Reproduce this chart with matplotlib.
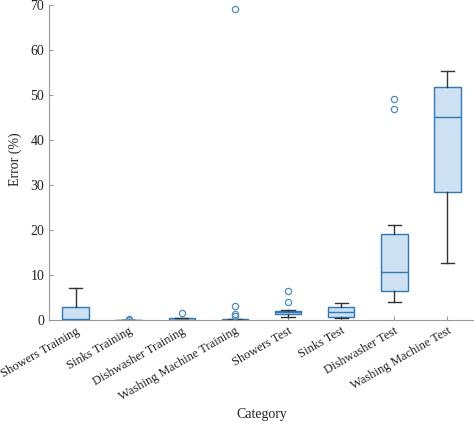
import matplotlib
matplotlib.use("Agg")
import matplotlib.pyplot as plt
import matplotlib.transforms as mtransforms

categories = [
    "Showers Training", "Sinks Training", "Dishwasher Training",
    "Washing Machine Training", "Showers Test", "Sinks Test",
    "Dishwasher Test", "Washing Machine Test",
]
whisker_low = [0.0, 0.0, 0.0, 0.0, 0.6, 0.35, 4.1, 12.6]
q1 = [0.0, 0.0, 0.0, 0.0, 1.4, 0.7, 6.4, 28.5]
median = [0.2, 0.05, 0.1, 0.05, 1.8, 1.8, 10.6, 45.0]
q3 = [2.8, 0.1, 0.5, 0.2, 2.1, 2.9, 19.1, 51.8]
whisker_high = [7.1, 0.1, 0.5, 0.3, 2.3, 3.8, 21.2, 55.3]
outliers = [
    [],
    [0.2, 0.1],
    [1.6],
    [69.0, 3.0, 1.3, 0.9],
    [6.5, 4.0],
    [],
    [49.0, 46.8],
    [],
]
y_ticks = [0, 10, 20, 30, 40, 50, 60, 70]

plt.rcParams["font.family"] = ["Liberation Serif", "DejaVu Serif"]

stats = []
for i, name in enumerate(categories):
    stats.append({
        "label": name,
        "whislo": whisker_low[i],
        "q1": q1[i],
        "med": median[i],
        "q3": q3[i],
        "whishi": whisker_high[i],
        "fliers": outliers[i],
    })

fig = plt.figure(figsize=(4.74, 4.22), dpi=100)
ax = fig.add_axes([0.1034, 0.2417, 0.8966, 0.7472])

edge = "#2f78b8"
ax.bxp(
    stats,
    widths=0.5,
    patch_artist=True,
    capwidths=0.25,
    boxprops=dict(facecolor="#cde1f3", edgecolor=edge, linewidth=1.0),
    medianprops=dict(color=edge, linewidth=1.0),
    whiskerprops=dict(color="#333333", linewidth=1.0),
    capprops=dict(color="#333333", linewidth=1.0),
    flierprops=dict(marker="o", markerfacecolor="none", markeredgecolor="#4a8cc4",
                    markersize=4.5, markeredgewidth=0.9),
)

ax.set_xlim(0.5, 8.5)
ax.set_ylim(0, 70)
ax.set_yticks(y_ticks)
ax.set_yticklabels([str(t) for t in y_ticks], fontsize=10)
ax.set_xticklabels(categories, rotation=30, ha="right", rotation_mode="anchor",
                   fontsize=9)
shift = mtransforms.ScaledTranslation(5 / 100, -3 / 100, fig.dpi_scale_trans)
for lbl in ax.get_xticklabels():
    lbl.set_transform(lbl.get_transform() + shift)
ax.tick_params(direction="in", length=3, colors="#222222", color="#999999")
ax.spines["top"].set_visible(False)
ax.spines["right"].set_visible(False)
ax.spines["left"].set_color("#999999")
ax.spines["bottom"].set_color("#999999")
ax.set_ylabel("Error (%)", fontsize=10, color="#222222")
ax.yaxis.set_label_coords(-0.063, 0.51)
ax.set_xlabel("Category", fontsize=10, color="#222222")
ax.xaxis.set_label_coords(0.5, -0.28)

fig.savefig("out.png", dpi=100)
